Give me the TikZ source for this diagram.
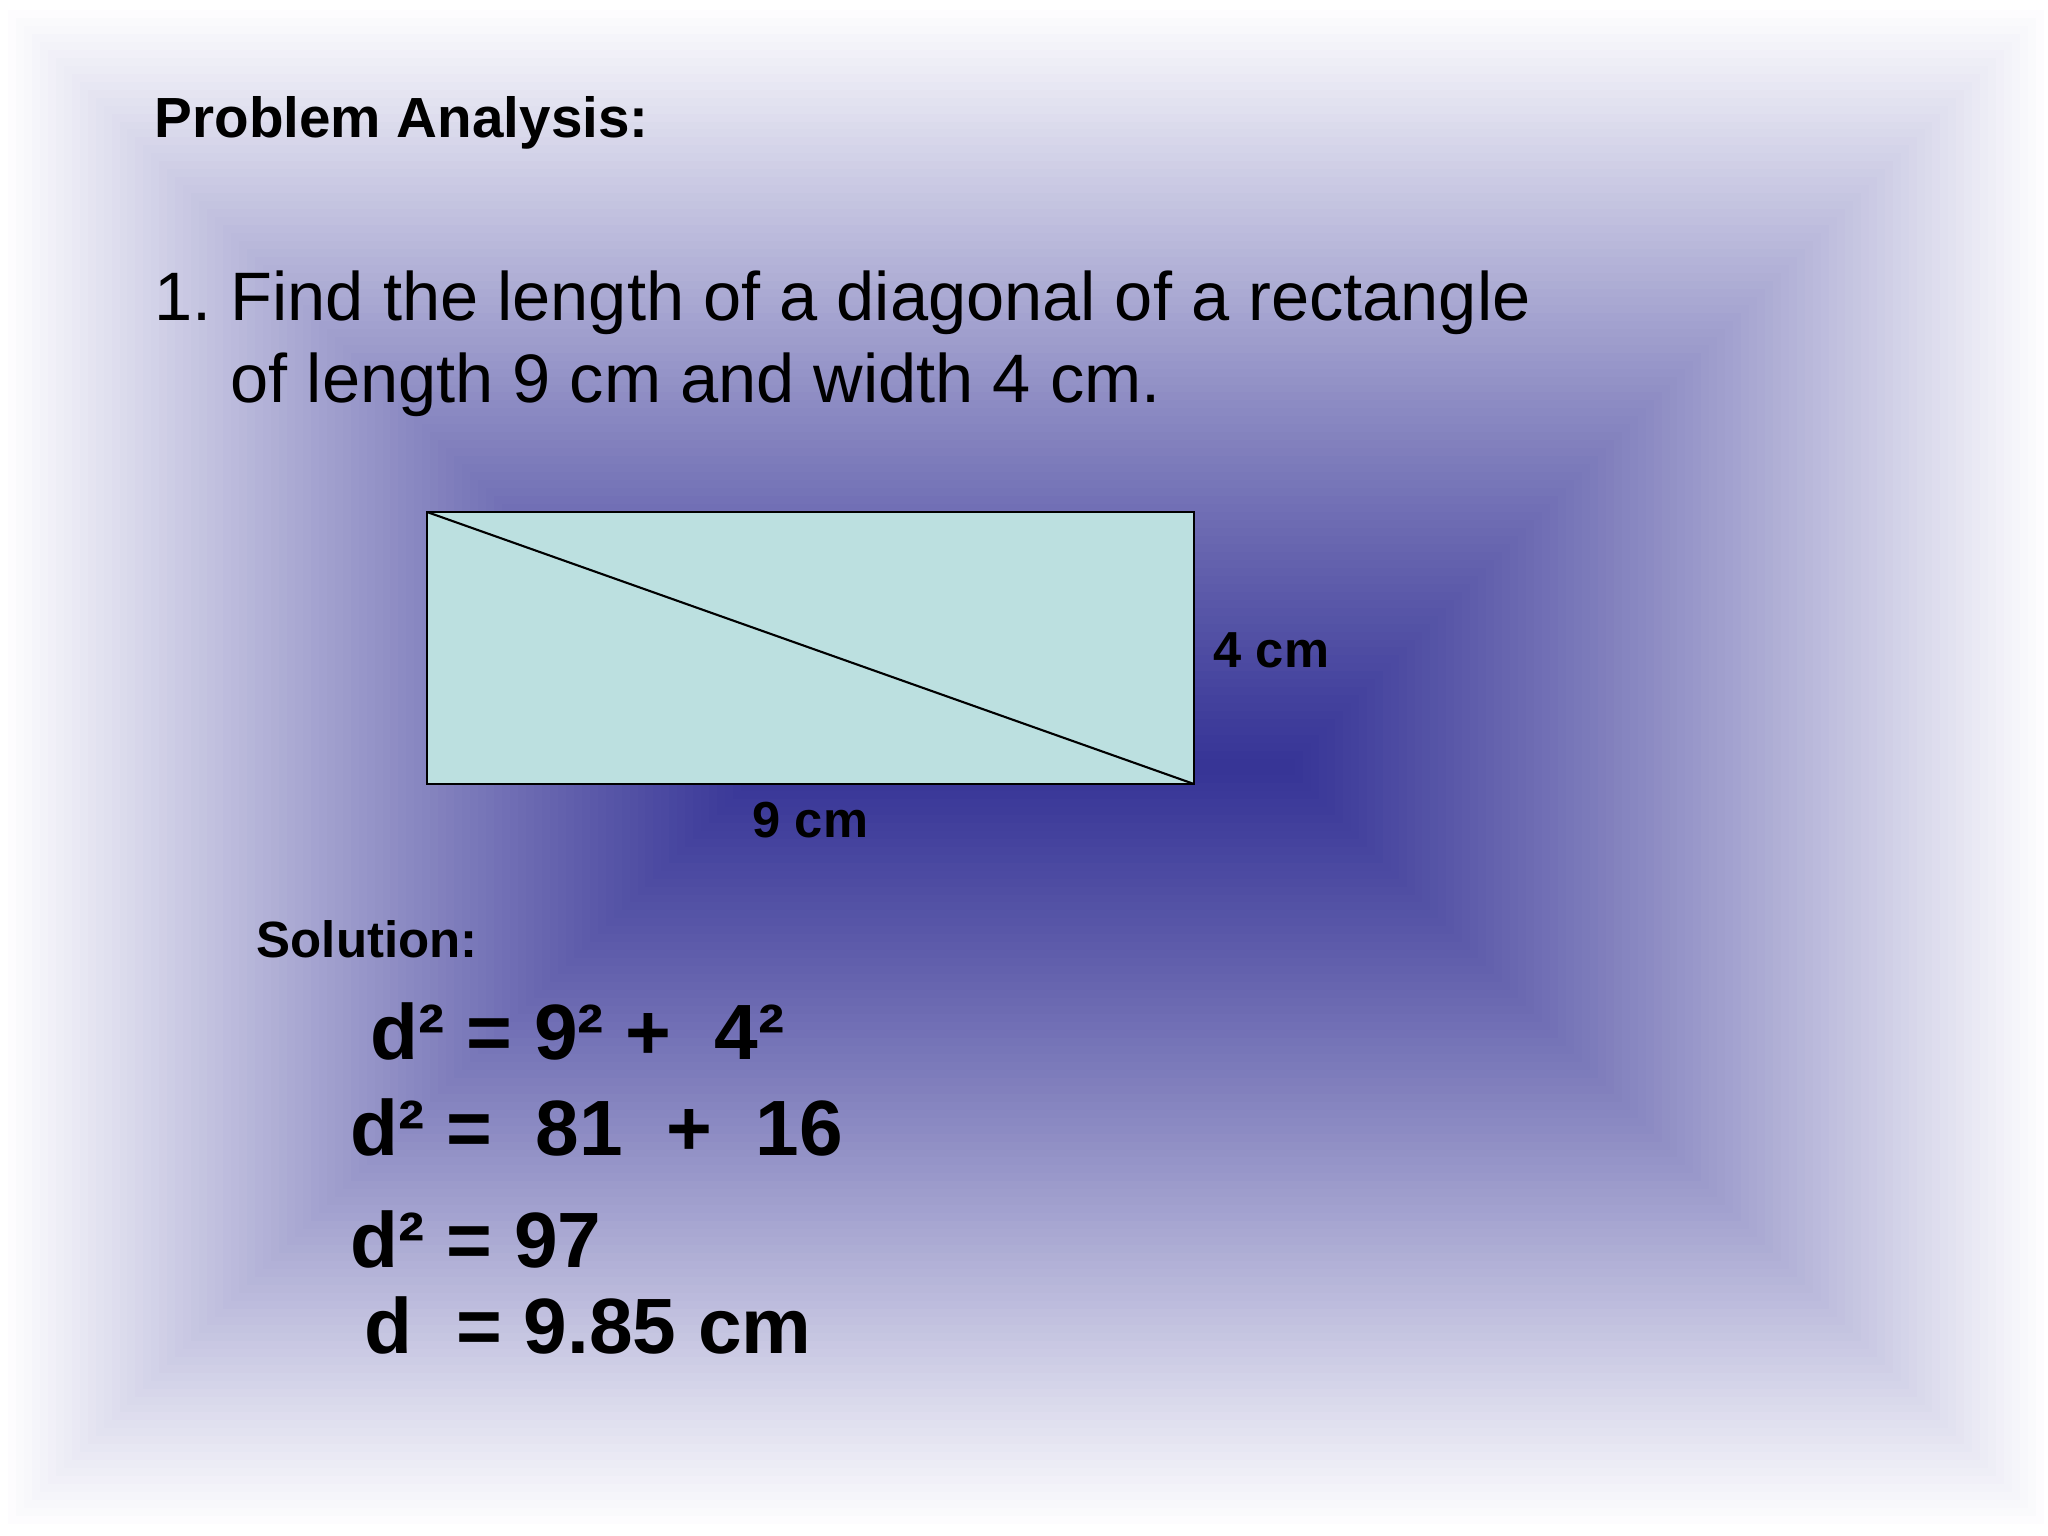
\documentclass[tikz,border=0pt]{standalone}
\usepackage{fontspec}
\setmainfont{Liberation Sans}
\usepackage{tikz}

\definecolor{bgdark}{RGB}{54,52,150}
\definecolor{boxfill}{RGB}{188,224,224}

\begin{document}
\begin{tikzpicture}
    [x=0.01cm,y=-0.01cm,
     every node/.style={inner sep=0pt,anchor=base west,text=black},
     head/.style={font=\fontsize{16.1}{19}\selectfont\bfseries},
     task/.style={font=\fontsize{19.5}{23}\selectfont},
     lbl/.style={font=\fontsize{14.4}{17}\selectfont\bfseries},
     eqn/.style={font=\fontsize{22.3}{26}\selectfont\bfseries},
     box/.style={draw=black,line width=0.6pt,fill=boxfill}]
    \useasboundingbox (0,0) rectangle (2048,1536);
    % background, rectangles round the centre line
    \begin{scope}
    \clip (0,0) rectangle (2048,1536);
    \fill[white] (0,0) rectangle (2048,1536);
    \foreach \i in {0,...,95}{
      \pgfmathsetmacro{\d}{765*(1-\i/96)}
      \pgfmathsetmacro{\p}{100*(\d/765)^1.15}
      \colorlet{bgc}{white!\p!bgdark}
      \fill[bgc] (765-\d,767-\d) rectangle (1287+\d,767+\d);
    }
    \end{scope}
    \node[head] (title) at (154,137) {Problem Analysis:};
    \node[task] (num) at (154,320) {1.};
    \node[task] (q1) at (230,320) {Find the length of a diagonal of a rectangle};
    \node[task] (q2) at (230,402) {of length 9 cm and width 4 cm.};
    % the rectangle
    \coordinate (tl) at (427,512);
    \coordinate (br) at (1194,784);
    \draw[box] (tl) rectangle (br);
    \draw[line width=0.6pt] (tl) -- (br);
    \node[lbl] (wd) at (1213,667) {4 cm};
    \node[lbl] (ln) at (752,837) {9 cm};
    % solution
    \node[lbl,font=\fontsize{14.5}{17}\selectfont\bfseries] (sol) at (256,957) {Solution:};
    \node[eqn] (e1) at (370,1059) {d² = 9² +\ \ 4²};
    \node[eqn] (e2) at (350,1155) {d² =\ \ 81\ \ +\ \ 16};
    \node[eqn] (e3) at (350,1267) {d² = 97};
    \node[eqn] (e4) at (364,1353) {d\ \ = 9.85 cm};
  \end{tikzpicture}
\end{document}
